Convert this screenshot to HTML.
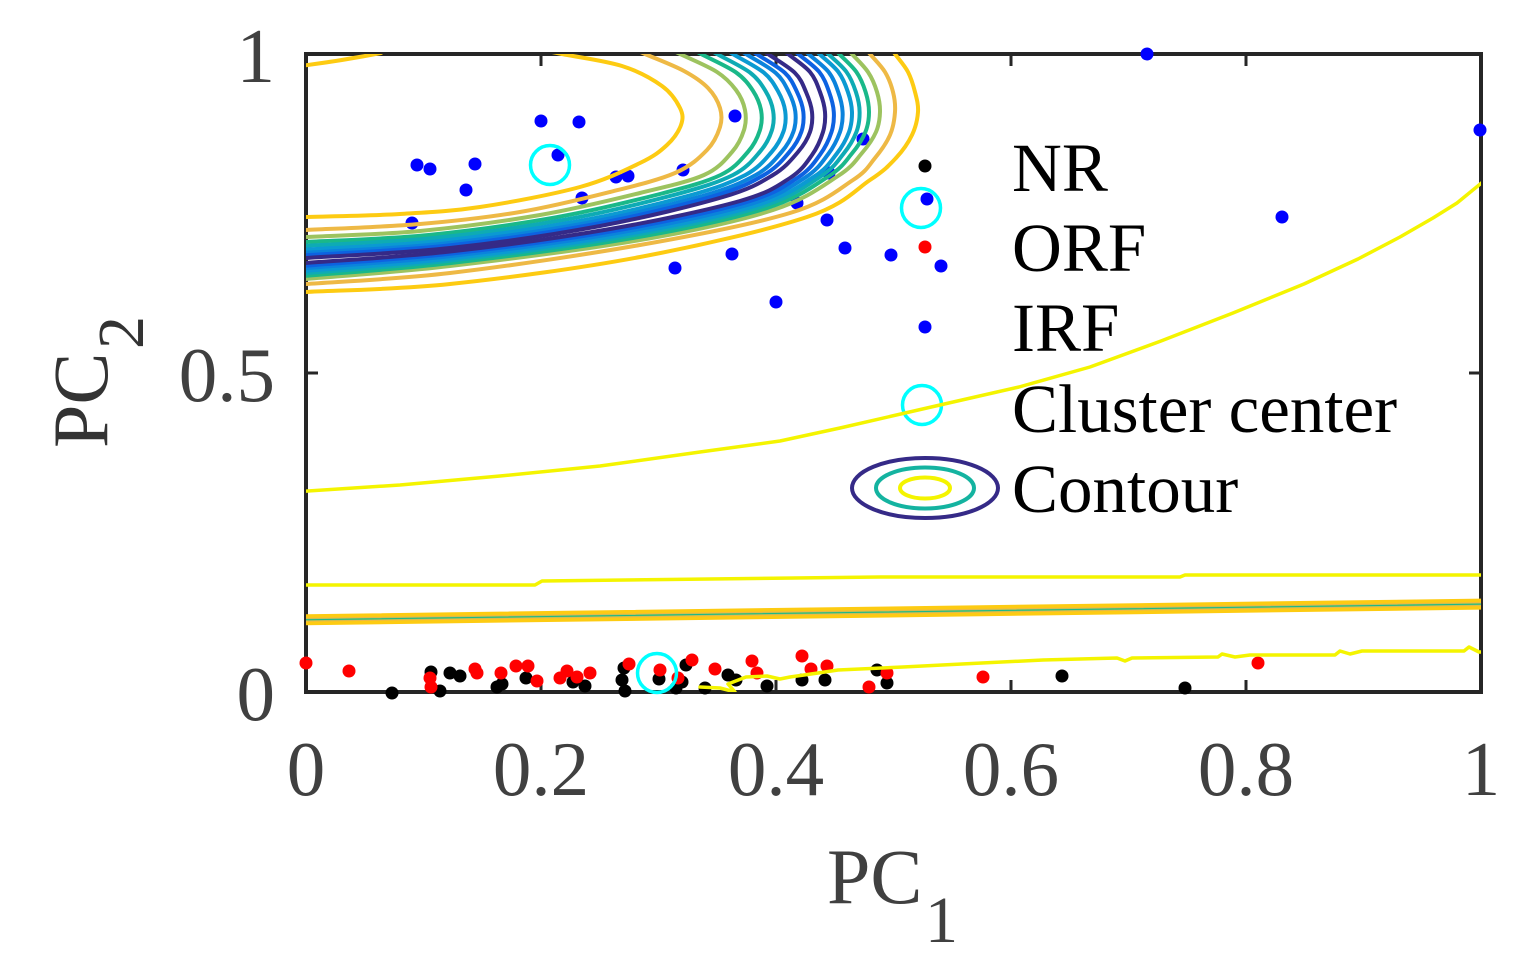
<!DOCTYPE html>
<html><head><meta charset="utf-8">
<style>
html,body{margin:0;padding:0;background:#fff;}
svg{display:block;}
text{font-family:"Liberation Serif","Times New Roman",serif;}
</style></head>
<body>
<svg width="1539" height="971" viewBox="0 0 1539 971">
<defs><clipPath id="pa"><rect x="306" y="54" width="1175" height="638"/></clipPath></defs>
<rect width="1539" height="971" fill="#fff"/>

<!-- axes frame -->
<rect x="306" y="54" width="1175" height="638" fill="none" stroke="#262626" stroke-width="4"/>
<g stroke="#262626" stroke-width="3">
<path d="M541,692V680M776,692V680M1011,692V680M1246,692V680"/>
<path d="M541,54V66M776,54V66M1011,54V66M1246,54V66"/>
<path d="M306,373H318M1481,373H1469"/>
</g>

<!-- NR black -->
<g fill="#000">
<circle cx="392" cy="693" r="6.5"/><circle cx="431" cy="672" r="6.5"/><circle cx="440" cy="691" r="6.5"/>
<circle cx="450" cy="673" r="6.5"/><circle cx="460" cy="676" r="6.5"/><circle cx="497" cy="687" r="6.5"/>
<circle cx="502" cy="684" r="6.5"/><circle cx="526" cy="678" r="6.5"/><circle cx="573" cy="682" r="6.5"/>
<circle cx="585" cy="686" r="6.5"/><circle cx="624" cy="668" r="6.5"/><circle cx="622" cy="680" r="6.5"/>
<circle cx="625" cy="691" r="6.5"/><circle cx="659" cy="679" r="6.5"/><circle cx="676" cy="688" r="6.5"/>
<circle cx="682" cy="682" r="6.5"/><circle cx="686" cy="665" r="6.5"/><circle cx="705" cy="688" r="6.5"/>
<circle cx="728" cy="675" r="6.5"/><circle cx="736" cy="680" r="6.5"/><circle cx="767" cy="686" r="6.5"/>
<circle cx="802" cy="680" r="6.5"/><circle cx="825" cy="680" r="6.5"/><circle cx="877" cy="670" r="6.5"/>
<circle cx="887" cy="683" r="6.5"/><circle cx="1062" cy="676" r="6.5"/><circle cx="1185" cy="688" r="6.5"/>
<circle cx="925" cy="166" r="6.5"/>
</g>
<!-- ORF red -->
<g fill="#ff0000">
<circle cx="306" cy="663" r="6.5"/><circle cx="349" cy="671" r="6.5"/><circle cx="430" cy="678" r="6.5"/>
<circle cx="431" cy="687" r="6.5"/><circle cx="475" cy="669" r="6.5"/><circle cx="477" cy="673" r="6.5"/>
<circle cx="501" cy="673" r="6.5"/><circle cx="516" cy="666" r="6.5"/><circle cx="528" cy="666" r="6.5"/>
<circle cx="537" cy="681" r="6.5"/><circle cx="560" cy="678" r="6.5"/><circle cx="567" cy="671" r="6.5"/>
<circle cx="577" cy="677" r="6.5"/><circle cx="590" cy="673" r="6.5"/><circle cx="629" cy="664" r="6.5"/>
<circle cx="660" cy="670" r="6.5"/><circle cx="678" cy="678" r="6.5"/><circle cx="692" cy="660" r="6.5"/>
<circle cx="715" cy="669" r="6.5"/><circle cx="752" cy="661" r="6.5"/><circle cx="757" cy="673" r="6.5"/>
<circle cx="802" cy="656" r="6.5"/><circle cx="811" cy="669" r="6.5"/><circle cx="827" cy="666" r="6.5"/>
<circle cx="869" cy="687" r="6.5"/><circle cx="887" cy="673" r="6.5"/><circle cx="983" cy="677" r="6.5"/>
<circle cx="1258" cy="663" r="6.5"/>
<circle cx="925" cy="247" r="6.5"/>
</g>
<!-- IRF blue -->
<g fill="#0000ff">
<circle cx="541" cy="121" r="6.5"/><circle cx="579" cy="122" r="6.5"/><circle cx="735" cy="116" r="6.5"/>
<circle cx="558" cy="155" r="6.5"/><circle cx="417" cy="165" r="6.5"/><circle cx="430" cy="169" r="6.5"/>
<circle cx="475" cy="164" r="6.5"/><circle cx="466" cy="190" r="6.5"/><circle cx="616" cy="177" r="6.5"/>
<circle cx="628" cy="176" r="6.5"/><circle cx="683" cy="170" r="6.5"/><circle cx="582" cy="198" r="6.5"/>
<circle cx="863" cy="139" r="6.5"/><circle cx="829" cy="173" r="6.5"/><circle cx="797" cy="203" r="6.5"/>
<circle cx="827" cy="220" r="6.5"/><circle cx="927" cy="199" r="6.5"/><circle cx="845" cy="248" r="6.5"/>
<circle cx="891" cy="255" r="6.5"/><circle cx="941" cy="266" r="6.5"/><circle cx="732" cy="254" r="6.5"/>
<circle cx="675" cy="268" r="6.5"/><circle cx="776" cy="302" r="6.5"/><circle cx="412" cy="223" r="6.5"/>
<circle cx="1147" cy="54" r="6.5"/><circle cx="1282" cy="217" r="6.5"/><circle cx="1480" cy="130" r="6.5"/>
<circle cx="925" cy="327" r="6.5"/>
</g>
<!-- cluster centers -->
<g fill="none" stroke="#00ffff" stroke-width="3.5">
<circle cx="550" cy="165" r="19.5"/><circle cx="921" cy="208" r="19.5"/><circle cx="657" cy="673" r="19.5"/>
<circle cx="922" cy="405" r="19.5"/>
</g>

<!-- contours -->
<g clip-path="url(#pa)" fill="none" stroke-linejoin="round" stroke-linecap="round">
<path d="M300,66 Q340,61 381,53" stroke="#fdcb12" stroke-width="4"/>
<path d="M300,619.8 L1490,604" stroke="#fdcb12" stroke-width="11"/>
<path d="M300,619.8 L1490,604" stroke="#eeb945" stroke-width="4"/>
<path d="M300,619.8 L1490,604" stroke="#9dc35f" stroke-width="2"/>
<path d="M300,619.8 L1490,604" stroke="#1ab889" stroke-width="1"/>
<path d="M300,585 L535,585 L542,581 L880,577 L1180,577 L1185,575 L1490,575" stroke="#f4f400" stroke-width="3.5"/>
<path d="M700,687 L720,688 L735,692 L728,684 L746,677 L767,676 L780,679 L790,677 L818,673 L838,670 L903,667 L962,664 L1043,660 L1117,658 L1125,661 L1132,658 L1218,657 L1222,654 L1235,657 L1250,655 L1335,655 L1340,651 L1350,654 L1362,651 L1464,651 L1469,647 L1479,652 L1490,652" stroke="#f4f400" stroke-width="3.5"/>
<path d="M300,491.5 L400,485 L500,476 L600,466 L700,452 L780,441 L840,428 L940,405 L1019,387 L1090,367 L1161,341 L1233,313 L1304,284 L1358,259 L1400,237 L1433,218 L1457,203 L1490,176" stroke="#f4f400" stroke-width="3.5"/>
<g id="cont" stroke-width="4"></g>
</g>

<!-- legend contour icon -->
<g fill="none" stroke-width="4">
<ellipse cx="925" cy="488" rx="73" ry="30" stroke="#352a87"/>
<ellipse cx="925" cy="488" rx="49" ry="20.5" stroke="#14b3a0"/>
<ellipse cx="925" cy="488" rx="25" ry="10.5" stroke="#f4f400"/>
</g>

<!-- tick labels -->
<g font-size="77" fill="#404040" text-anchor="end">
<text x="275" y="82">1</text><text x="275" y="401">0.5</text><text x="275" y="720">0</text>
</g>
<g font-size="77" fill="#404040" text-anchor="middle">
<text x="306" y="795">0</text><text x="541" y="795">0.2</text><text x="776" y="795">0.4</text>
<text x="1011" y="795">0.6</text><text x="1246" y="795">0.8</text><text x="1481" y="795">1</text>
</g>
<!-- axis labels -->
<text x="827" y="903" font-size="78" fill="#404040">PC</text>
<text x="925" y="942" font-size="66" fill="#404040">1</text>
<text transform="translate(107,448) rotate(-90)" font-size="78" fill="#333">PC</text>
<text transform="translate(143,349) rotate(-90)" font-size="66" fill="#333">2</text>

<!-- legend text -->
<g font-size="69" fill="#000">
<text x="1012" y="191">NR</text>
<text x="1012" y="271">ORF</text>
<text x="1012" y="351">IRF</text>
<text x="1012" y="432">Cluster center</text>
<text x="1012" y="512">Contour</text>
</g>
</svg>
<script>
(function(){
const f=q=>q[0].toFixed(1)+','+q[1].toFixed(1);
function cr(p){let d='M'+f(p[0]);for(let i=0;i<p.length-1;i++){const p0=p[i-1]||p[i],p1=p[i],p2=p[i+1],p3=p[i+2]||p[i+1];
d+=' C'+f([p1[0]+(p2[0]-p0[0])/6,p1[1]+(p2[1]-p0[1])/6])+' '+f([p2[0]-(p3[0]-p1[0])/6,p2[1]-(p3[1]-p1[1])/6])+' '+f(p2);}return d;}
function ext(p){const a=p[0],b=p[1],n=p.length,y=p[n-1],z=p[n-2];
return [[a[0]+(a[0]-b[0])*0.6,a[1]+(a[1]-b[1])*0.6]].concat(p,[[y[0]+(y[0]-z[0])*0.25,y[1]+(y[1]-z[1])*0.25]]);}
const L=(a,b,t)=>a.map((p,i)=>[p[0]+(b[i][0]-p[0])*t,p[1]+(b[i][1]-p[1])*t]);
const Y1=[[562,54],[622,66],[662,86],[680,108],[681,125],[667,145],[640,163],[580,187],[480,207],[400,214],[306,217]];
const O1=[[645,54],[684,71],[708,88],[720,108],[720,127],[707,150],[675,173],[610,192],[520,212],[420,224],[306,230]];
const G1=[[680,54],[717,72],[736,90],[745,110],[744,130],[732,152],[704,175],[640,193],[540,215],[420,231],[306,237]];
const N1=[[768,54],[795,73],[806,92],[812,112],[810,132],[798,152],[773,175],[723,197],[600,226],[450,248],[306,258]];
const N2=[[788,54],[810,72],[820,92],[825,112],[823,132],[812,155],[790,178],[740,201],[610,229],[450,251.5],[306,263]];
const G2=[[852,54],[868,72],[877,92],[880,112],[876,132],[862,153],[838,176],[773,210],[640,240],[450,266],[306,279]];
const O2=[[870,54],[885,72],[893,92],[895,112],[890,135],[875,158],[853,180],[790,213],[640,245],[450,273],[306,284]];
const Y2=[[895,54],[908,72],[915,92],[918,112],[912,135],[896,158],[870,180],[807,217],[640,257],[450,284],[306,292]];
const C={y:'#fdcb12',o:'#eeb945',lg:'#9dc35f',g:'#1ab889',t:'#0eabb4',c:'#0b9ad2',cb:'#0b83dc',b:'#0d62e1',n:'#352a87'};
const cv=[[Y1,C.y],[O1,C.o],[G1,C.lg],[L(G1,N1,.24),C.g],[L(G1,N1,.42),C.t],[L(G1,N1,.6),C.c],[L(G1,N1,.75),C.cb],[L(G1,N1,.87),C.b],
[Y2,C.y],[O2,C.o],[G2,C.lg],[L(N2,G2,.8),C.g],[L(N2,G2,.63),C.t],[L(N2,G2,.49),C.c],[L(N2,G2,.32),C.cb],[L(N2,G2,.16),C.b],[N1,C.n],[N2,C.n]];
let s='';
for(const [p,c] of cv){s+='<path d="'+cr(ext(p))+'" stroke="'+c+'"/>';}
document.getElementById('cont').innerHTML=s;
})();
</script>
</body></html>
